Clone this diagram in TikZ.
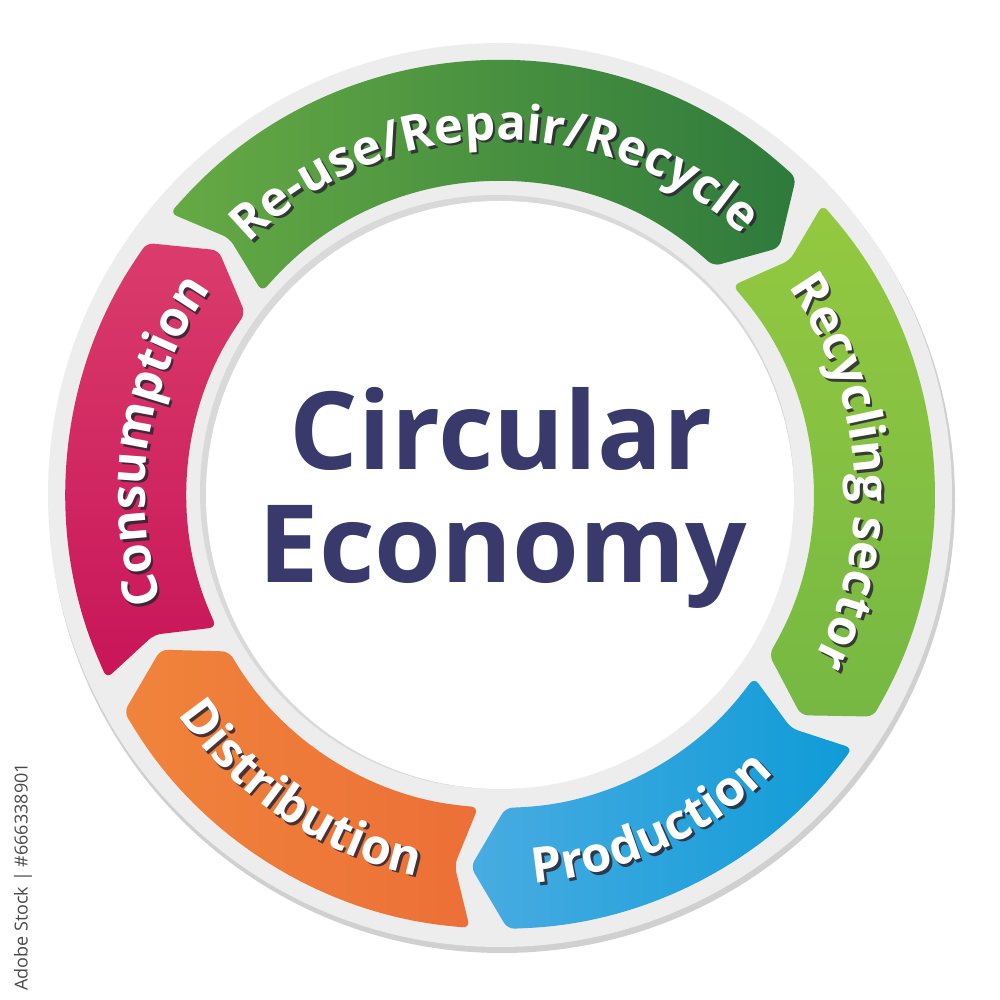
\documentclass[tikz,border=0pt]{standalone}
\usepackage{fontspec}
\usetikzlibrary{decorations.text}
\newfontfamily\labelfont{Open Sans}
\definecolor{ringgray}{HTML}{EDEDED}
\definecolor{ringshadow}{HTML}{D0D0D0}
\definecolor{innershadow}{HTML}{D9D9D9}
\definecolor{titlenavy}{HTML}{393A6B}
\definecolor{pinktop}{HTML}{DA3C6C}
\definecolor{pinkbot}{HTML}{C81558}
\definecolor{greenleft}{HTML}{66AA44}
\definecolor{greenright}{HTML}{2E7A3C}
\definecolor{limetop}{HTML}{94C940}
\definecolor{limebot}{HTML}{76B843}
\definecolor{blueleft}{HTML}{48ACE2}
\definecolor{blueright}{HTML}{0F9BD7}
\definecolor{orangeleft}{HTML}{F0843B}
\definecolor{orangeright}{HTML}{EC6F37}
\definecolor{textshadow}{HTML}{2B2633}
\definecolor{stockgray}{HTML}{4A4A4A}

\tikzset{every picture/.style={line width=0.75pt}}
\tikzset{
	band/.style={rounded corners=7pt}}

% arrow band, clockwise flow: #1 tail angle, #2 head angle, #3 shading
\newcommand{\arrowband}[3]{%
	\shade[band,#3] (#1-5.5:434) arc[start angle=#1-5.5, end angle=#2+5.5, radius=434]
		-- (#2+2.5:434) -- (#2-3:373) -- (#2+2.5:313) -- (#2+5.5:313)
		arc[start angle=#2+5.5, end angle=#1-5.5, radius=313]
		-- (#1-2.5:313) -- (#1-5.5:373) -- (#1-2.5:434) -- cycle;}

% curved label: #1 start angle, #2 end angle, #3 radius, #4 text
\newcommand{\bandlabel}[4]{%
	\begin{scope}[shift={(2.5,-2.5)},opacity=0.85]
		\path[decorate,decoration={text along path,text align=center,text color=textshadow,
			text={|\labelfont\bfseries\fontsize{49}{52}\selectfont|#4}}]
			(#1:#3) arc[start angle=#1, end angle=#2, radius=#3];
	\end{scope}
	\path[decorate,decoration={text along path,text align=center,text color=white,
		text={|\labelfont\bfseries\fontsize{49}{52}\selectfont|#4}}]
		(#1:#3) arc[start angle=#1, end angle=#2, radius=#3];}

\begin{document}
\begin{tikzpicture}[x=1pt,y=1pt]
	\useasboundingbox (0,0) rectangle (1000,1000);
	\fill[white] (0,0) rectangle (1000,1000);

	%Shape: Ring
	\fill[ringshadow] (502,500) circle[radius=453];
	\fill[ringgray] (500,505) circle[radius=452];
	\fill[innershadow] (497,508) circle[radius=297];
	\fill[white] (500,505) circle[radius=294];

	\begin{scope}[shift={(500,505)}]
		%Shape: Arrow bands
		\arrowband{268.5}{207.5}{left color=orangeleft, right color=orangeright}
		\arrowband{207.5}{142}{top color=pinktop, bottom color=pinkbot}
		\arrowband{142}{44.5}{left color=greenleft, right color=greenright}
		\arrowband{44.5}{-33.2}{top color=limetop, bottom color=limebot}
		\arrowband{-33.2}{-91.5}{left color=blueleft, right color=blueright}

		% Band labels
		\bandlabel{221}{121}{355}{Consumption}
		\bandlabel{141}{41}{355}{Re-use/Repair/Recycle}
		\bandlabel{54}{-46}{355}{Recycling sector}
		\bandlabel{-115.2}{-15.2}{390}{Production}
		\bandlabel{186}{286}{390}{Distribution}
	\end{scope}

	% Text Node
	\node[text=titlenavy, font=\labelfont\bfseries\fontsize{108}{110}\selectfont, anchor=base] (circular) at (501,530) {Circular};
	% Text Node
	\node[text=titlenavy, font=\labelfont\bfseries\fontsize{108}{110}\selectfont, anchor=base] (economy) at (503,417) {Economy};
	% Text Node
	\node[text=stockgray, font=\labelfont\fontsize{18}{19}\selectfont, rotate=90, anchor=center] (stock) at (23,123) {Adobe Stock | \#666338901};
\end{tikzpicture}
\end{document}
